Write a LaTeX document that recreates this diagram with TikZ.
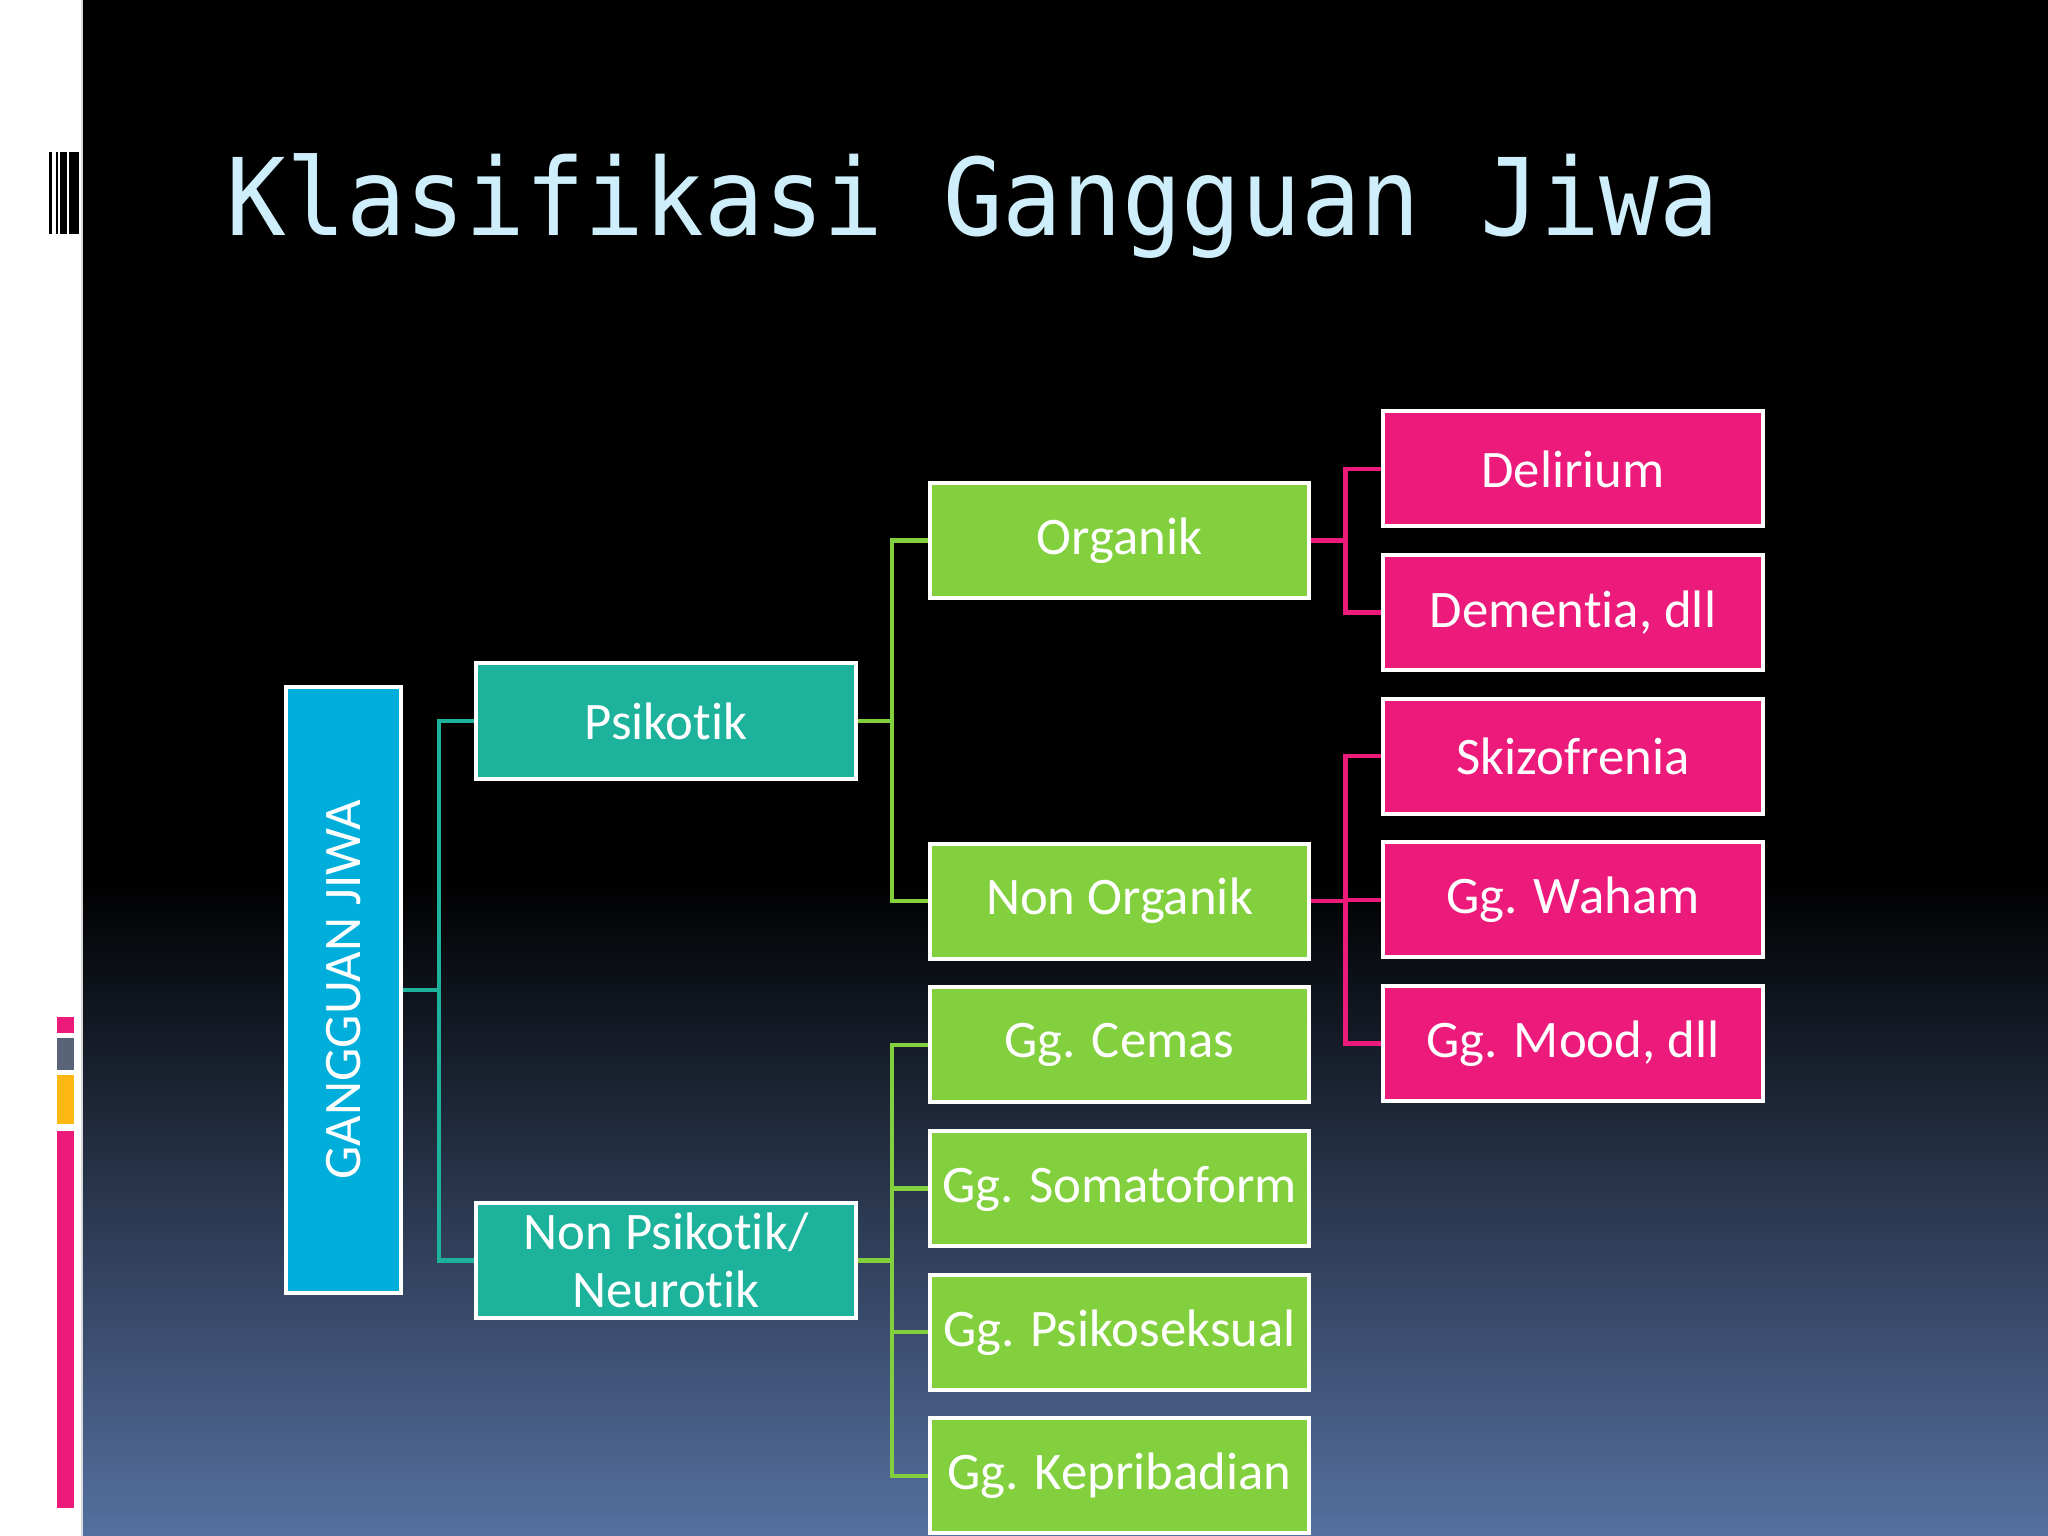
\documentclass[tikz,border=0pt]{standalone}
\usepackage{fontspec}
\setmainfont{Carlito}[Ligatures={NoCommon}]
\newfontfamily\titlefont{DejaVu Sans Mono}
\definecolor{ctitle}{RGB}{205,238,250}
\definecolor{cgj}{RGB}{0,174,219}
\definecolor{cteal}{RGB}{28,178,155}
\definecolor{cgreen}{RGB}{130,208,62}
\definecolor{cpink}{RGB}{235,26,123}
\definecolor{cbottom}{RGB}{85,112,160}
\definecolor{cgray}{RGB}{90,100,120}
\definecolor{corange}{RGB}{253,184,19}
\begin{document}
\begin{tikzpicture}[x=0.01cm,y=-0.01cm,
  box/.style={draw=white, line width=0.04cm, minimum width=3.79cm, minimum height=1.15cm,
    inner sep=0pt, text=white, font=\fontsize{15}{16.5}\selectfont, align=center},
  tealbox/.style={box, fill=cteal},
  greenbox/.style={box, fill=cgreen},
  pinkbox/.style={box, fill=cpink},
  conn/.style={line width=0.045cm}]
\useasboundingbox (0,0) rectangle (2048,1536);
% background
\fill[black] (0,0) rectangle (2048,882);
\shade[top color=black, bottom color=cbottom] (0,880) rectangle (2048,1536);
\fill[white] (0,0) rectangle (82,1536);
\fill[black!15] (81,0) rectangle (83,1536);
% barcode
\fill[black] (49.3,152) rectangle (51.7,234);
\fill[black] (55.7,152) rectangle (58.3,234);
\fill[black] (60.3,152) rectangle (67,234);
\fill[black] (69,152) rectangle (79.3,234);
% colour strips
\fill[cpink] (57,1017) rectangle (74,1033);
\fill[cgray] (57,1038) rectangle (74,1070);
\fill[corange] (57,1075) rectangle (74,1124);
\fill[cpink] (57,1131) rectangle (74,1508);
% title
\node[anchor=base west, inner sep=0pt, text=ctitle, font=\titlefont\fontsize{28.2}{30}\selectfont] (title) at (226,235) {\scalebox{1}[1.08]{Klasifikasi Gangguan Jiwa}};
% boxes
\node[box, fill=cgj, minimum width=1.15cm, minimum height=6.06cm] (gj) at (343.5,990) {};
\node[rotate=90, inner sep=0pt, text=white, font=\fontsize{15}{16.5}\selectfont] (gjt) at (gj.center) {GANGGUAN JIWA};
\node[tealbox] (psi) at (666,721) {Psikotik};
\node[tealbox] (np) at (666,1260.4) {Non Psikotik/\\Neurotik};
\node[greenbox] (org) at (1119.5,540.7) {Organik};
\node[greenbox] (norg) at (1119.5,901.2) {Non Organik};
\node[greenbox] (cem) at (1119.5,1044.9) {Gg. Cemas};
\node[greenbox] (som) at (1119.5,1188.6) {Gg. Somatoform};
\node[greenbox] (psk) at (1119.5,1332.2) {Gg. Psikoseksual};
\node[greenbox] (kep) at (1119.5,1475.9) {Gg. Kepribadian};
\node[pinkbox] (del) at (1573,468.9) {Delirium};
\node[pinkbox] (dem) at (1573,612.6) {Dementia, dll};
\node[pinkbox] (ski) at (1573,756.2) {Skizofrenia};
\node[pinkbox] (wah) at (1573,899.9) {Gg. Waham};
\node[pinkbox] (moo) at (1573,1043.6) {Gg. Mood, dll};
% branch columns
\coordinate (b1) at (438.9,0);
\coordinate (b2) at (892,0);
\coordinate (b3) at (1345.3,0);
% connectors
\draw[conn, cteal] (gj.east) -- (gj.east -| b1) |- (psi.west);
\draw[conn, cteal] (gj.east -| b1) |- (np.west);
\draw[conn, cgreen] (psi.east) -- (psi.east -| b2) |- (org.west);
\draw[conn, cgreen] (psi.east -| b2) |- (norg.west);
\draw[conn, cgreen] (np.east) -- (np.east -| b2) |- (cem.west);
\draw[conn, cgreen] (np.east -| b2) |- (som.west);
\draw[conn, cgreen] (np.east -| b2) |- (psk.west);
\draw[conn, cgreen] (np.east -| b2) |- (kep.west);
\draw[conn, cpink] (org.east) -- (org.east -| b3) |- (del.west);
\draw[conn, cpink] (org.east -| b3) |- (dem.west);
\draw[conn, cpink] (norg.east) -- (norg.east -| b3) |- (ski.west);
\draw[conn, cpink] (norg.east -| b3) |- (wah.west);
\draw[conn, cpink] (norg.east -| b3) |- (moo.west);
\end{tikzpicture}
\end{document}
